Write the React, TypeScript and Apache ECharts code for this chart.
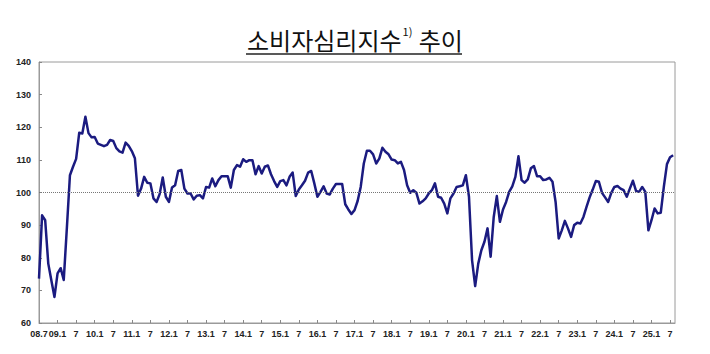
import React, { useEffect, useRef } from "react";
import * as echarts from "echarts";

// 소비자심리지수 monthly values (2008.7 ~ 2025.8)
const y2008 = [73.6, 93.0, 91.5, 78.2, 73.0, 68.0]; // Jul-Dec
const y2009 = [75.2, 76.8, 73.2, 89.0, 105.3, 107.9, 110.3, 118.3, 118.1, 123.2, 118.2, 116.9];
const y2010 = [117.0, 115.0, 114.6, 114.2, 114.6, 116.1, 115.8, 113.6, 112.6, 112.2, 115.3, 114.3];
const y2011 = [112.7, 110.5, 99.0, 101.2, 104.8, 103.0, 102.8, 98.2, 97.1, 99.5, 104.6, 98.7];
const y2012 = [97.1, 101.5, 102.2, 106.6, 106.9, 101.2, 99.7, 99.7, 97.9, 99.0, 99.2, 98.2];
const y2013 = [101.7, 101.5, 104.3, 101.9, 103.8, 105.0, 105.0, 105.0, 101.5, 106.9, 108.4, 107.9];
const y2014 = [110.2, 109.4, 109.9, 109.9, 105.6, 108.1, 105.8, 107.9, 108.3, 105.6, 103.5, 101.7];
const y2015 = [103.5, 103.8, 102.2, 104.8, 106.1, 98.9, 100.9, 102.2, 103.6, 106.1, 106.6, 102.8];
const y2016 = [98.7, 100.2, 101.9, 99.7, 99.4, 101.2, 102.6, 102.6, 102.6, 96.4, 94.8, 93.4];
const y2017 = [94.6, 97.4, 101.7, 108.9, 112.8, 112.8, 111.7, 108.9, 110.4, 113.7, 112.5, 111.7];
const y2018 = [110.1, 109.9, 108.9, 109.4, 106.9, 102.2, 99.9, 100.7, 99.9, 96.6, 97.3, 98.2];
const y2019 = [99.7, 100.7, 102.8, 98.7, 98.4, 96.6, 93.6, 98.2, 99.7, 101.7, 101.9, 102.2];
const y2020 = [105.3, 98.7, 79.2, 71.3, 78.2, 82.3, 84.9, 89.0, 80.3, 92.5, 98.9, 91.0];
const y2021 = [94.8, 97.1, 100.2, 101.9, 104.8, 111.1, 103.8, 103.0, 104.0, 107.4, 108.1, 105.0];
const y2022 = [105.0, 103.8, 104.0, 104.5, 103.3, 97.1, 85.9, 88.4, 91.3, 89.0, 86.4, 90.0];
const y2023 = [90.7, 90.5, 92.5, 95.6, 98.5, 100.9, 103.5, 103.3, 99.9, 98.5, 97.1, 99.9];
const y2024 = [101.7, 102.0, 101.2, 100.7, 98.7, 101.2, 103.6, 100.5, 100.2, 101.7, 100.2, 88.4];
const y2025 = [91.5, 95.1, 93.6, 93.8, 101.8, 108.7, 110.8, 111.4]; // Jan-Aug

const tickLabels = [
  "08.7", "09.1", "7", "10.1", "7", "11.1", "7", "12.1", "7", "13.1", "7",
  "14.1", "7", "15.1", "7", "16.1", "7", "17.1", "7", "18.1", "7", "19.1", "7",
  "20.1", "7", "21.1", "7", "22.1", "7", "23.1", "7", "24.1", "7", "25.1", "7",
];
const yTicks = { min: 60, max: 140, step: 10 };
const baseline = 100;

const allValues = [
  ...y2008, ...y2009, ...y2010, ...y2011, ...y2012, ...y2013, ...y2014, ...y2015,
  ...y2016, ...y2017, ...y2018, ...y2019, ...y2020, ...y2021, ...y2022, ...y2023,
  ...y2024, ...y2025,
];

export default function App() {
  const ref = useRef<HTMLDivElement | null>(null);

  useEffect(() => {
    if (!ref.current) return;
    const chart = echarts.init(ref.current, undefined, { renderer: "svg" });
    const labelFont = "'Liberation Sans', Arial, sans-serif";
    const titleFont = "'Noto Sans CJK KR', sans-serif";
    chart.setOption({
      animation: false,
      backgroundColor: "#ffffff",
      grid: {
        left: 39,
        top: 62,
        right: 35,
        bottom: 31,
        show: true,
        borderColor: "#9a9a9a",
        borderWidth: 1,
      },
      graphic: [
        {
          type: "text",
          left: "center",
          top: 25,
          style: {
            text: "{a|소비자심리지수}{b|1)}{a| 추이}",
            fill: "#111",
            rich: {
              a: { fontSize: 24, fontFamily: titleFont, fill: "#111", lineHeight: 28 },
              b: { fontSize: 11, fontFamily: titleFont, fill: "#111", verticalAlign: "top", lineHeight: 28, padding: [0, 1, 12, 1] },
            },
          },
        },
        {
          type: "line",
          shape: { x1: 246, y1: 54, x2: 462, y2: 54 },
          style: { stroke: "#222", lineWidth: 1.5 },
        },
      ],
      xAxis: {
        type: "value",
        min: 0,
        max: 205.6,
        interval: 6,
        splitLine: { show: false },
        axisLine: { show: true, lineStyle: { color: "#9a9a9a", width: 1 } },
        axisTick: { show: true, inside: true, length: 3, lineStyle: { color: "#888" } },
        axisLabel: {
          margin: 6,
          fontSize: 9,
          fontWeight: "bold",
          color: "#222",
          fontFamily: labelFont,
          showMaxLabel: false,
          formatter: (val: number) => {
            const k = Math.round(val);
            if (Math.abs(val - k) > 1e-6 || k % 6 !== 0) return "";
            return tickLabels[k / 6] ?? "";
          },
        },
      },
      yAxis: {
        type: "value",
        min: yTicks.min,
        max: yTicks.max,
        interval: yTicks.step,
        splitLine: { show: false },
        axisLine: { show: true, lineStyle: { color: "#9a9a9a", width: 1 } },
        axisTick: { show: true, inside: true, length: 3, lineStyle: { color: "#888" } },
        axisLabel: {
          margin: 8,
          fontSize: 9,
          fontWeight: "bold",
          color: "#222",
          fontFamily: labelFont,
        },
      },
      series: [
        {
          type: "line",
          data: allValues.map((v, i) => [i, v]),
          showSymbol: false,
          symbol: "none",
          lineStyle: { color: "#1b1b80", width: 2.5, join: "round" },
          markLine: {
            silent: true,
            symbol: ["none", "none"],
            label: { show: false },
            lineStyle: { color: "#777", type: "dotted", width: 1 },
            data: [{ yAxis: baseline }],
          },
        },
      ],
    });
    return () => chart.dispose();
  }, []);

  return (
    <div
      ref={ref}
      style={{ position: "fixed", left: 0, top: 0, width: 710, height: 354, background: "#fff" }}
    />
  );
}
